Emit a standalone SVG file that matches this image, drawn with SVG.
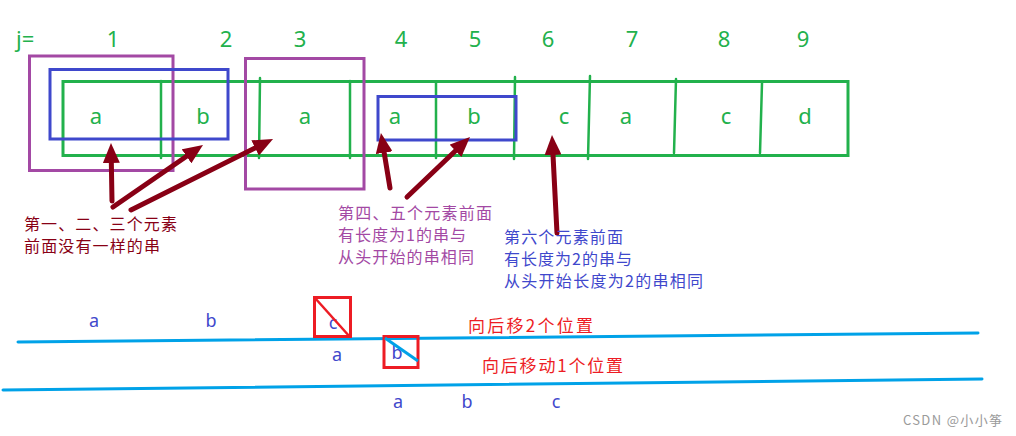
<svg xmlns="http://www.w3.org/2000/svg" width="1016" height="436" viewBox="0 0 1016 436">
<style>
.num{font-family:"Noto Sans","Noto Sans CJK SC",sans-serif;font-size:22px;fill:#22b14c;text-anchor:middle}
.cell{font-family:"Noto Sans","Noto Sans CJK SC",sans-serif;font-size:22px;fill:#22b14c;text-anchor:middle}
.gbox{fill:none;stroke:#22b14c;stroke-width:3}
.div{stroke:#22b14c;stroke-width:2.5;stroke-linecap:round}
.pbox{fill:none;stroke:#a349a4;stroke-width:3}
.bbox{fill:none;stroke:#3f48cc;stroke-width:3}
.arrow{stroke:#880015;stroke-width:5;stroke-linecap:round;fill:none;marker-end:url(#ah)}
.cn{font-family:"Noto Sans CJK SC","Noto Sans",sans-serif;font-size:16px}
.red{fill:#880015}
.pur{fill:#a349a4}
.blu{fill:#3f48cc}
.rtxt{font-family:"Noto Sans CJK SC","Noto Sans",sans-serif;font-size:17px;fill:#ed1c24}
.bl{font-family:"Noto Sans","Noto Sans CJK SC",sans-serif;font-size:18px;fill:#3f48cc;text-anchor:middle}
.line{stroke:#00a2e8;stroke-width:3;stroke-linecap:round}
.rbox{fill:none;stroke:#ed1c24;stroke-width:3}
</style>
<defs>
<marker id="ah" markerUnits="userSpaceOnUse" markerWidth="20" markerHeight="17" viewBox="0 0 20 17" refX="8" refY="8.5" orient="auto">
<path d="M0,0 L20,8.5 L0,17 Z" fill="#880015"/>
</marker>
</defs>
<rect width="1016" height="436" fill="#ffffff"/>

<g id="index-labels">
<text x="16" y="47" style="font-family:'Noto Sans',sans-serif;font-size:22px;fill:#22b14c">j=</text>
<text class="num" x="113" y="47">1</text>
<text class="num" x="226" y="47">2</text>
<text class="num" x="300" y="47">3</text>
<text class="num" x="401" y="47">4</text>
<text class="num" x="475" y="47">5</text>
<text class="num" x="548" y="47">6</text>
<text class="num" x="632" y="47">7</text>
<text class="num" x="724" y="47">8</text>
<text class="num" x="803" y="47">9</text>
</g>

<g id="array">
<rect class="gbox" x="63" y="81.5" width="785" height="74"/>
<line class="div" x1="161" y1="81" x2="161" y2="158"/>
<line class="div" x1="260" y1="78" x2="259" y2="158"/>
<line class="div" x1="350" y1="81" x2="350" y2="158"/>
<line class="div" x1="436" y1="83" x2="436" y2="158"/>
<line class="div" x1="515" y1="77" x2="514" y2="159"/>
<line class="div" x1="590" y1="76" x2="588" y2="159"/>
<line class="div" x1="676" y1="79" x2="674" y2="153"/>
<line class="div" x1="762" y1="83" x2="760" y2="153"/>
<text class="cell" x="96" y="124">a</text>
<text class="cell" x="203" y="124">b</text>
<text class="cell" x="305" y="124">a</text>
<text class="cell" x="395" y="124">a</text>
<text class="cell" x="474" y="124">b</text>
<text class="cell" x="564" y="124">c</text>
<text class="cell" x="626" y="124">a</text>
<text class="cell" x="726" y="124">c</text>
<text class="cell" x="805" y="124">d</text>
</g>

<g id="highlight-boxes">
<rect class="pbox" x="29.5" y="56" width="143.5" height="114.5"/>
<rect class="bbox" x="50" y="69.5" width="178" height="69.5"/>
<rect class="pbox" x="245.5" y="58.5" width="118.5" height="130.5"/>
<rect class="bbox" x="378" y="96.5" width="138" height="43.5"/>
</g>

<g id="connectors">
<line class="arrow" x1="112" y1="201" x2="111.2" y2="155"/>
<line class="arrow" x1="113" y1="207" x2="193.1" y2="151.8"/>
<line class="arrow" x1="131" y1="210" x2="262.3" y2="144.4"/>
<line class="arrow" x1="390" y1="188" x2="382.9" y2="144.8"/>
<line class="arrow" x1="407" y1="197" x2="461.3" y2="145.3"/>
<line class="arrow" x1="557" y1="233" x2="552.6" y2="147"/>
</g>

<g id="note-1-3">
<text class="cn red" x="24" y="230" textLength="153">第一、二、三个元素</text>
<text class="cn red" x="24" y="252" textLength="136">前面没有一样的串</text>
</g>
<g id="note-4-5">
<text class="cn pur" x="338" y="219" textLength="154">第四、五个元素前面</text>
<text class="cn pur" x="338" y="241" textLength="128">有长度为1的串与</text>
<text class="cn pur" x="338" y="263" textLength="136">从头开始的串相同</text>
</g>
<g id="note-6">
<text class="cn blu" x="504" y="243" textLength="119">第六个元素前面</text>
<text class="cn blu" x="504" y="265" textLength="128">有长度为2的串与</text>
<text class="cn blu" x="504" y="287" textLength="199">从头开始长度为2的串相同</text>
</g>

<g id="shift-demo">
<line class="line" x1="18" y1="342" x2="978" y2="333"/>
<line class="line" x1="3" y1="390" x2="982" y2="379"/>
<text class="bl" x="94" y="327">a</text>
<text class="bl" x="211" y="327">b</text>
<text class="bl" x="333" y="329">c</text>
<rect class="rbox" x="314.5" y="297.5" width="36" height="39"/>
<line x1="315" y1="298" x2="350" y2="337" stroke="#ed1c24" stroke-width="2.5"/>
<text class="bl" x="337" y="361">a</text>
<text class="bl" x="397" y="359">b</text>
<rect class="rbox" x="384" y="336.5" width="34" height="31"/>
<line x1="385" y1="338" x2="418" y2="361" stroke="#00a2e8" stroke-width="3"/>
<text class="bl" x="398" y="408">a</text>
<text class="bl" x="467" y="408">b</text>
<text class="bl" x="556" y="408">c</text>
<text class="rtxt" x="468" y="332" textLength="125">向后移2个位置</text>
<text class="rtxt" x="482" y="372" textLength="141">向后移动1个位置</text>
</g>

<g id="watermark">
<text x="903" y="425" textLength="99" style="font-family:'Noto Sans CJK SC','Noto Sans',sans-serif;font-size:13px;fill:#9a9a9a">CSDN @小小筝</text>
</g>
</svg>
